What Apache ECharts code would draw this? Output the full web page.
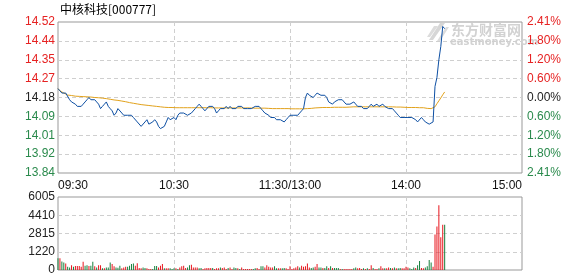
<!DOCTYPE html>
<html>
<head>
<meta charset="utf-8">
<script src="https://cdn.jsdelivr.net/npm/echarts@6/dist/echarts.min.js"></script>
<style>html,body{margin:0;padding:0;background:#fff}#c{width:578px;height:276px}</style>
</head>
<body>
<div id="c"></div>
<script>
const titleText = '中核科技[000777]';
const timeLabels = ['09:30', '10:30', '11:30/13:00', '14:00', '15:00'];
const priceLabels = ['14.52', '14.44', '14.35', '14.27', '14.18', '14.09', '14.01', '13.92', '13.84'];
const pctLabels = ['2.41%', '1.80%', '1.20%', '0.60%', '0.00%', '0.60%', '1.20%', '1.80%', '2.41%'];
const volLabels = ['0', '1220', '2815', '4410', '6005'];
const priceMin = 13.84, priceMax = 14.52, volMax = 6005, totalMinutes = 240;

const price = [
14.22,14.21,14.20,14.20,14.20,14.20,14.17,14.16,14.16,14.15,
14.14,14.14,14.14,14.15,14.16,14.17,14.18,14.17,14.17,14.17,
14.16,14.15,14.13,14.14,14.15,14.16,14.14,14.13,14.12,14.10,
14.11,14.13,14.13,14.11,14.10,14.10,14.10,14.10,14.10,14.09,
14.09,14.07,14.07,14.05,14.05,14.07,14.08,14.06,14.06,14.07,
14.08,14.07,14.05,14.04,14.04,14.05,14.07,14.09,14.08,14.08,
14.09,14.08,14.10,14.11,14.11,14.11,14.11,14.10,14.10,14.11,
14.11,14.13,14.14,14.15,14.14,14.13,14.12,14.12,14.14,14.14,
14.14,14.13,14.11,14.12,14.13,14.13,14.13,14.14,14.13,14.14,
14.13,14.13,14.13,14.14,14.14,14.14,14.13,14.13,14.13,14.13,
14.13,14.13,14.14,14.14,14.14,14.13,14.12,14.11,14.11,14.10,
14.09,14.09,14.09,14.08,14.08,14.08,14.08,14.07,14.08,14.09,
14.10,14.10,14.10,14.10,14.10,14.11,14.12,14.13,14.18,14.20,
14.19,14.19,14.18,14.19,14.20,14.20,14.19,14.19,14.19,14.18,
14.16,14.16,14.15,14.16,14.16,14.17,14.17,14.17,14.17,14.15,
14.15,14.15,14.15,14.16,14.16,14.14,14.14,14.14,14.13,14.13,
14.13,14.14,14.15,14.14,14.14,14.15,14.14,14.14,14.15,14.14,
14.14,14.13,14.13,14.13,14.12,14.11,14.10,14.09,14.09,14.09,
14.09,14.09,14.09,14.09,14.09,14.08,14.07,14.07,14.09,14.08,
14.07,14.07,14.06,14.06,14.07,14.23,14.27,14.35,14.41,14.50,
14.49
];

const avgPrice = [
14.220,14.210,14.204,14.200,14.195,14.191,14.190,14.189,14.187,14.186,
14.186,14.185,14.185,14.184,14.184,14.183,14.183,14.182,14.181,14.180,
14.180,14.179,14.178,14.177,14.176,14.175,14.174,14.172,14.171,14.169,
14.168,14.167,14.165,14.164,14.162,14.161,14.159,14.157,14.156,14.154,
14.153,14.151,14.149,14.148,14.147,14.146,14.145,14.144,14.143,14.142,
14.141,14.140,14.139,14.138,14.137,14.136,14.135,14.135,14.135,14.135,
14.134,14.134,14.134,14.134,14.134,14.134,14.134,14.134,14.134,14.134,
14.134,14.134,14.134,14.134,14.134,14.134,14.134,14.134,14.134,14.134,
14.133,14.133,14.133,14.133,14.133,14.133,14.133,14.133,14.133,14.133,
14.133,14.133,14.133,14.133,14.133,14.133,14.133,14.133,14.133,14.133,
14.132,14.132,14.132,14.132,14.132,14.132,14.132,14.132,14.132,14.131,
14.130,14.130,14.130,14.130,14.130,14.130,14.130,14.130,14.130,14.130,
14.129,14.129,14.129,14.129,14.129,14.129,14.129,14.129,14.129,14.130,
14.130,14.131,14.132,14.133,14.134,14.134,14.134,14.135,14.135,14.135,
14.135,14.135,14.136,14.136,14.136,14.136,14.136,14.136,14.136,14.136,
14.137,14.137,14.137,14.138,14.138,14.138,14.138,14.138,14.138,14.138,
14.138,14.138,14.138,14.138,14.138,14.138,14.138,14.138,14.138,14.138,
14.138,14.138,14.138,14.138,14.138,14.137,14.137,14.137,14.137,14.136,
14.135,14.135,14.135,14.135,14.135,14.135,14.134,14.134,14.134,14.134,
14.131,14.131,14.130,14.130,14.131,14.138,14.152,14.165,14.178,14.192,
14.205
];

const volume = [
970,970,700,620,540,270,215,400,270,320,
320,320,270,670,350,400,320,350,670,300,
215,400,400,135,135,215,215,620,485,300,
215,190,350,135,215,270,270,350,485,540,
350,565,160,135,215,160,135,80,80,80,
320,320,215,350,485,135,135,135,135,80,
135,135,80,215,300,
350,160,215,400,430,215,215,215,135,160,
80,135,160,160,160,160,80,135,135,215,
160,215,80,160,215,80,215,160,135,80,
215,80,80,80,80,80,80,135,160,80,300,
300,215,400,270,215,215,300,135,135,135,
135,160,135,80,300,80,135,
215,300,215,350,270,300,540,215,
160,215,270,485,215,215,160,160,300,160,
300,160,160,160,160,80,80,80,80,80,
80,80,135,215,135,160,80,135,80,135,80,
400,160,80,80,135,300,135,135,135,215,
160,135,215,135,135,160,135,135,270,215,135,
80,215,160,400,
750,160,135,215,300,830,620,270,2910,3580,5330,2690,3720,3720
];

// 1 = up (red), -1 = down (green)
const volDir = [
-1,1,-1,-1,1,-1,-1,1,-1,1,
1,1,1,1,-1,-1,1,-1,-1,1,
-1,1,1,-1,1,-1,-1,-1,1,1,
-1,-1,-1,1,1,1,-1,-1,-1,-1,
1,1,1,1,-1,-1,1,1,1,-1,
-1,-1,1,1,1,-1,1,1,-1,-1,
-1,1,-1,1,1,
1,1,-1,-1,1,1,1,1,-1,-1,
1,1,1,1,1,-1,1,1,1,-1,
1,1,1,-1,1,1,-1,-1,1,-1,
1,1,1,1,1,1,-1,-1,1,1,-1,
-1,1,1,1,1,1,-1,-1,1,1,
-1,-1,1,1,1,1,1,
1,1,-1,1,1,1,1,1,
-1,-1,1,1,-1,-1,1,-1,-1,1,
-1,1,-1,-1,-1,1,-1,1,1,1,
1,1,-1,-1,1,1,1,-1,1,-1,1,
1,-1,1,1,-1,1,1,-1,1,1,
-1,1,-1,1,-1,-1,1,1,1,1,-1,
-1,-1,1,-1,
-1,1,1,-1,-1,-1,-1,1,1,1,1,1,1,-1
];

const RED = '#e8141c', GREEN = '#17803d', LABEL_RED = '#e62222', LABEL_GREEN = '#2a8a4c';
const FONT = 'Liberation Sans';
const dash = { type: [4, 3], color: '#cfcfcf', width: 1 };

const chart = echarts.init(document.getElementById('c'), null, { renderer: 'canvas' });

const priceColor = (v) => { v = Number(v); return v > 4 ? LABEL_RED : (v < 4 ? LABEL_GREEN : '#222'); };

const xBase = (gi, showLabel) => ({
  type: 'value', gridIndex: gi, min: 0, max: totalMinutes, interval: 60,
  axisLine: { show: false }, axisTick: { show: false },
  splitLine: { show: true, showMinLine: false, showMaxLine: false, lineStyle: dash },
  axisLabel: {
    show: showLabel, formatter: (v) => timeLabels[Math.round(v / 60)],
    color: '#111', fontSize: 12, fontFamily: FONT, margin: 7,
    alignMinLabel: 'left', alignMaxLabel: 'right'
  }
});

const option = {
  animation: false,
  backgroundColor: '#fff',
  grid: [
    { left: 58, top: 22, width: 464, height: 151, show: true, borderColor: '#999', borderWidth: 1 },
    { left: 58, top: 197, width: 464, height: 74, show: true, borderColor: '#999', borderWidth: 1 }
  ],
  xAxis: [xBase(0, true), xBase(1, false)],
  yAxis: [
    { type: 'value', gridIndex: 0, min: 0, max: 8, interval: 1, position: 'left',
      axisLine: { show: false }, axisTick: { show: false },
      splitLine: { show: true, showMinLine: false, showMaxLine: false, lineStyle: dash },
      axisLabel: { formatter: (v) => priceLabels[8 - v], color: priceColor, fontSize: 12, fontFamily: FONT, margin: 3 } },
    { type: 'value', gridIndex: 0, min: 0, max: 8, interval: 1, position: 'right',
      axisLine: { show: false }, axisTick: { show: false }, splitLine: { show: false },
      axisLabel: { formatter: (v) => pctLabels[8 - v], color: priceColor, fontSize: 12, fontFamily: FONT, margin: 5 } },
    { type: 'value', gridIndex: 0, min: priceMin, max: priceMax, show: false },
    { type: 'value', gridIndex: 1, min: 0, max: 4, interval: 1, position: 'left',
      axisLine: { show: false }, axisTick: { show: false },
      splitLine: { show: true, showMinLine: false, showMaxLine: false, lineStyle: dash },
      axisLabel: { formatter: (v) => volLabels[v], color: '#222', fontSize: 12, fontFamily: FONT, margin: 3 } },
    { type: 'value', gridIndex: 1, min: 0, max: volMax, show: false }
  ],
  graphic: [
    { type: 'text', left: 60, top: 3, style: { text: titleText, fontSize: 12, fontFamily: 'Noto Sans CJK SC', fill: '#000' } },
    { type: 'polygon', shape: { points: [[440, 23], [445, 23], [433, 40], [429, 40]] }, style: { fill: '#d6d6d6' } },
    { type: 'polygon', shape: { points: [[434, 26], [438, 26], [430, 37], [427, 37]] }, style: { fill: '#dcdcdc' } },
    { type: 'polygon', shape: { points: [[446, 27], [449, 27], [440, 41], [437, 41]] }, style: { fill: '#dcdcdc' } },
    { type: 'text', left: 451, top: 23, style: { text: '东方财富网', fontSize: 14, fontWeight: 'bold', fontFamily: 'Noto Sans CJK SC', fill: '#d2d2d2' } },
    { type: 'text', left: 450, top: 37, style: { text: 'eastmoney.com', fontSize: 10, fontWeight: 'bold', fontFamily: 'DejaVu Sans', fill: '#d2d2d2' } }
  ],
  series: [
    { type: 'line', xAxisIndex: 0, yAxisIndex: 2, data: price.map((p, i) => [i, p]),
      showSymbol: false, symbol: 'none', lineStyle: { color: '#0d4fa3', width: 1 }, z: 3 },
    { type: 'line', xAxisIndex: 0, yAxisIndex: 2, data: avgPrice.map((p, i) => [i, p]),
      showSymbol: false, symbol: 'none', lineStyle: { color: '#e2a21c', width: 1 }, z: 2 },
    { type: 'bar', xAxisIndex: 1, yAxisIndex: 4, barWidth: 1,
      data: volume.map((v, i) => ({ value: [i, v], itemStyle: { color: volDir[i] > 0 ? RED : GREEN } })) }
  ]
};
chart.setOption(option);
</script>
</body>
</html>
